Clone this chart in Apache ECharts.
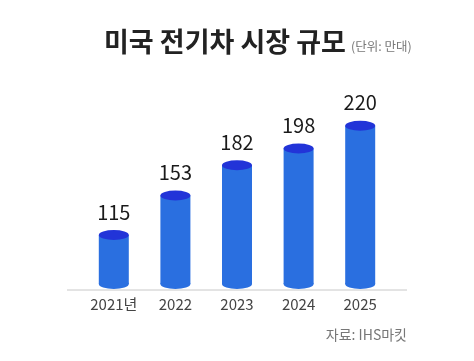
<!DOCTYPE html>
<html><head><meta charset="utf-8">
<script src="https://cdn.jsdelivr.net/npm/echarts@6/dist/echarts.min.js"></script>
<style>html,body{margin:0;padding:0;background:#fff}#c{width:474px;height:361px}</style>
</head><body><div id="c"></div>
<script>
const categories = ['2021년', '2022', '2023', '2024', '2025'];
const values = [115, 153, 182, 198, 220];
const titleText = '미국 전기차 시장 규모';
const unitText = '(단위: 만대)';
const sourceText = '자료: IHS마킷';

const FONT = '"Noto Sans CJK KR", "Noto Sans", sans-serif';
const bodyColor = '#2a6fe0';
const topColor = '#2234d8';
const yMin = 68, yMax = 260;

const chart = echarts.init(document.getElementById('c'));
chart.setOption({
  backgroundColor: '#fff',
  animation: false,
  title: [{
    text: '{a|' + titleText + '} {b|' + unitText + '}',
    left: 99, top: 20,
    textStyle: {
      fontWeight: 'normal',
      rich: {
        a: { fontFamily: FONT, fontSize: 27, fontWeight: 'bold', color: '#222', lineHeight: 34 },
        b: { fontFamily: FONT, fontSize: 12.5, fontWeight: 'normal', color: '#777', verticalAlign: 'bottom', padding: [0, 0, 6, 0] }
      }
    }
  }, {
    text: sourceText,
    right: 62, top: 323,
    textStyle: { fontFamily: FONT, fontSize: 14, fontWeight: 'normal', color: '#777' }
  }],
  grid: { left: 83, right: 83, top: 84, bottom: 77 },
  xAxis: {
    type: 'category', data: categories,
    axisLine: { show: false }, axisTick: { show: false },
    axisLabel: { fontFamily: FONT, fontSize: 15, color: '#444', margin: 13 }
  },
  yAxis: { type: 'value', min: yMin, max: yMax, show: false, splitLine: { show: false } },
  series: [{
    type: 'bar', data: values, barWidth: 30,
    itemStyle: { color: bodyColor },
    label: { show: true, position: 'top', distance: 13, fontFamily: FONT, fontSize: 20, color: '#1a1a1a' },
    z: 2
  }, {
    type: 'pictorialBar', data: values, symbol: 'circle', symbolSize: [30, 10],
    symbolPosition: 'end', symbolOffset: [0, '-50%'],
    itemStyle: { color: topColor }, z: 3
  }, {
    type: 'pictorialBar', data: values.map(() => yMin), symbol: 'circle', symbolSize: [30, 10],
    symbolPosition: 'end', symbolOffset: [0, '-50%'],
    itemStyle: { color: bodyColor }, z: 1
  }],
  graphic: [{
    type: 'line', shape: { x1: 67, y1: 290, x2: 407, y2: 290 },
    style: { stroke: '#c8c8c8', lineWidth: 1 }, z: 0
  }]
});
</script></body></html>
